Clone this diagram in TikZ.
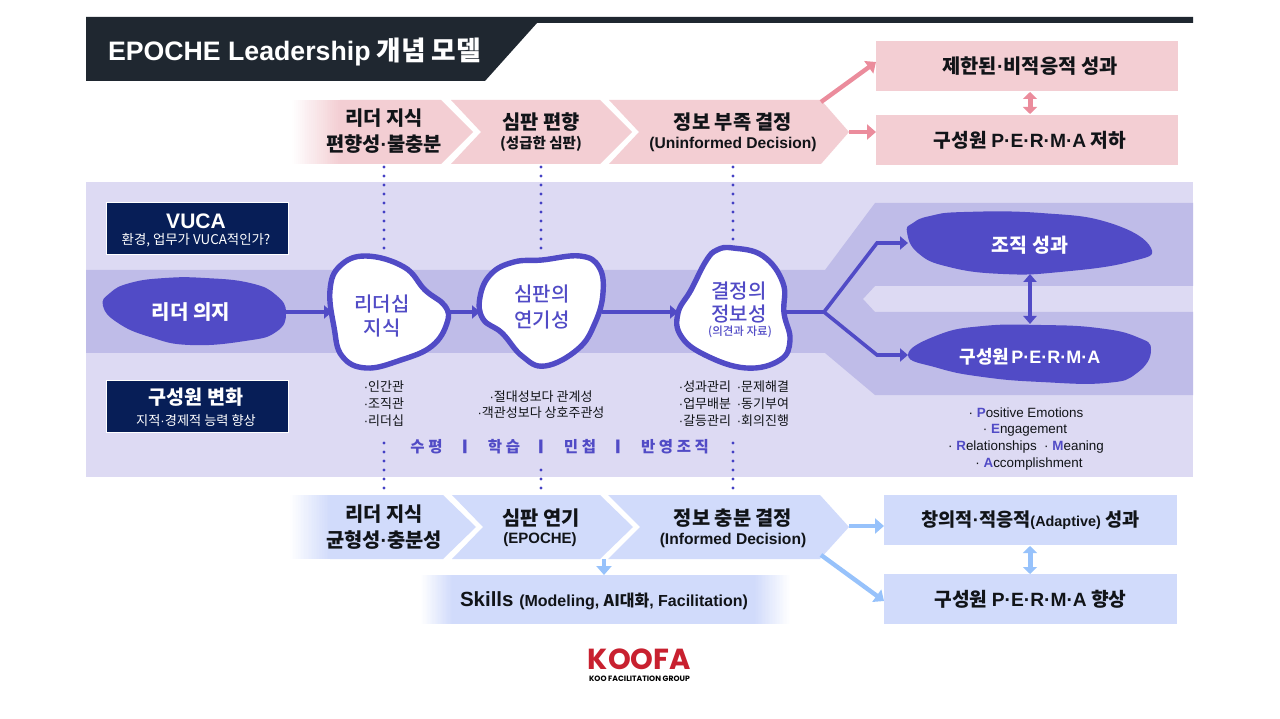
\documentclass[tikz,border=0pt]{standalone}
\usepackage{fontspec}
\setmainfont{Noto Sans CJK KR}
\newfontfamily\logofont{Poppins}
\newfontfamily\la{Liberation Sans}
\newfontfamily\med{Noto Sans CJK KR Medium}
\usetikzlibrary{arrows.meta}
\definecolor{darkbar}{HTML}{1F2730}
\definecolor{bandlight}{HTML}{DDDAF3}
\definecolor{banddark}{HTML}{BFBCE8}
\definecolor{purp}{HTML}{514BC6}
\definecolor{dotcol}{HTML}{4440C4}
\definecolor{navy}{HTML}{071E57}
\definecolor{pinkbox}{HTML}{F3CED3}
\definecolor{pinkarrow}{HTML}{EB8C9C}
\definecolor{bluebox}{HTML}{D1DBFB}
\definecolor{bluearrow}{HTML}{97C2FB}
\definecolor{inktext}{HTML}{111418}
\definecolor{logored}{HTML}{C8202F}
\newcommand{\fs}[1]{\fontsize{#1}{#1}\selectfont}
\newcommand{\md}{{\la ·}}
\newcommand{\pl}[1]{\textcolor{purp}{\bfseries #1}}
\newcommand{\pipe}{\scalebox{1.5}[0.85]{|}}
% fade in from white, left to right: colour, x0, x1, top, bottom
\newcommand{\fadeIn}[5]{\foreach \i in {0,...,24}{%
  \pgfmathsetmacro\xx{#2+(#3-#2)*\i/25}\pgfmathsetmacro\pp{(\i+0.5)*4}%
  \fill[#1!\pp!white] (\xx,#4) rectangle (#3+0.5,#5);}}
% fade out to white, left to right
\newcommand{\fadeOut}[5]{\foreach \i in {0,...,24}{%
  \pgfmathsetmacro\xx{#3-(#3-#2)*\i/25}\pgfmathsetmacro\pp{(\i+0.5)*4}%
  \fill[#1!\pp!white] (#2-0.5,#4) rectangle (\xx,#5);}}
\tikzset{
  x=1pt,y=-1pt,
  base/.style={inner sep=0pt,outer sep=0pt,align=center,text=inktext},
  lab/.style={base,yshift=-1pt},
  head/.style={lab,font=\fs{19.8}\bfseries},
  sub/.style={lab,font=\la\fs{15.6}\bfseries},
  small/.style={lab,font=\fs{13}},
  whitelab/.style={lab,text=white},
  purplab/.style={lab,text=purp},
  pinkrect/.style={base,fill=pinkbox,minimum width=302pt,minimum height=50pt,font=\fs{19.8}\bfseries},
  bluerect/.style={base,fill=bluebox,minimum width=293pt,minimum height=50pt,font=\fs{19.8}\bfseries},
  navyrect/.style={base,fill=navy,draw=white,line width=0.6pt,minimum width=182pt,minimum height=52pt},
  blobline/.style={draw=purp,line width=5.4pt,fill=white},
  blobsolid/.style={fill=purp},
  flow/.style={draw=purp,line width=3.6pt,-{Triangle[length=8pt,width=13pt]}},
  flowboth/.style={draw=purp,line width=3.6pt,{Triangle[length=8pt,width=13pt]}-{Triangle[length=8pt,width=13pt]}},
  pinkflow/.style={draw=pinkarrow,line width=4.4pt,-{Triangle[length=9pt,width=15pt]}},
  pinkboth/.style={draw=pinkarrow,line width=5pt,{Triangle[length=7pt,width=14pt]}-{Triangle[length=7pt,width=14pt]}},
  blueflow/.style={draw=bluearrow,line width=4.4pt,-{Triangle[length=9pt,width=15pt]}},
  blueboth/.style={draw=bluearrow,line width=5pt,{Triangle[length=7pt,width=14pt]}-{Triangle[length=7pt,width=14pt]}},
  dotline/.style={draw=dotcol,line width=3.4pt,line cap=round,dash pattern=on 0pt off 9pt},
}
\begin{document}
\begin{tikzpicture}
\useasboundingbox (0,0) rectangle (1280,719);
\fill[white] (0,0) rectangle (1280,719);

% title
\fill[darkbar] (86,17) -- (1193,17) -- (1193,23) -- (537,23) -- (485,81) -- (86,81) -- cycle;
\node[whitelab,anchor=west,font=\fs{26.7}\bfseries] (title) at (108,51) {{\la EPOCHE Leadership} 개념 모델};

% middle bands
\fill[bandlight] (86,182) rectangle (1193,477);
\fill[banddark] (86,270) -- (825,270) -- (875,203) -- (1193,203) -- (1193,286) -- (875,286) -- (863,299) -- (875,312) -- (1193,312) -- (1193,395) -- (875,395) -- (825,353) -- (86,353) -- cycle;

% top chevrons
\fadeIn{pinkbox}{292}{340}{100}{164}
\fill[pinkbox] (340,100) -- (441,100) -- (473,132) -- (441,164) -- (340,164) -- cycle;
\fill[pinkbox] (451,100) -- (600,100) -- (632,132) -- (600,164) -- (451,164) -- (481,132) -- cycle;
\fill[pinkbox] (609,100) -- (821,100) -- (849,132) -- (821,164) -- (609,164) -- (639,132) -- cycle;
\node[head] (tone) at (384,117) {리더 지식};
\node[head] (toneb) at (384,143) {편향성\md 불충분};
\node[head] (ttwo) at (541,121) {심판 편향};
\node[lab,font=\fs{14.5}\bfseries] (ttwob) at (541,143) {(성급한 심판)};
\node[head] (tthree) at (733,121) {정보 부족 결정};
\node[sub] (tthreeb) at (733,143) {(Uninformed Decision)};

% top results
\node[pinkrect] (pone) at (1027,66) {\hspace*{6pt}\raisebox{-1pt}{제한된\md 비적응적 성과}};
\node[pinkrect] (ptwo) at (1027,140) {\hspace*{6pt}\raisebox{-1pt}{\fs{19.2}구성원 {\la P·E·R·M·A} 저하}};
\coordinate (chevtop) at (821,102);
\coordinate (chevtip) at (849,132);
\coordinate (pdA) at (1030,92);
\coordinate (pdB) at (1030,114);
\coordinate (ponein) at (876,62);
\coordinate (ptwoin) at (876,132);
\draw[pinkflow] (chevtop) -- (ponein);
\draw[pinkflow] (chevtip) -- (ptwoin);
\draw[pinkboth] (pdA) -- (pdB);

% dotted lines
\coordinate (dAa) at (384,167); \coordinate (dAb) at (384,252);
\coordinate (dBa) at (541,167); \coordinate (dBb) at (541,252);
\coordinate (dCa) at (733,167); \coordinate (dCb) at (733,243);
\coordinate (dAc) at (384,443); \coordinate (dAd) at (384,492);
\coordinate (dBc) at (541,470); \coordinate (dBd) at (541,492);
\coordinate (dCc) at (733,443); \coordinate (dCd) at (733,492);
\draw[dotline] (dAa) -- (dAb);
\draw[dotline] (dBa) -- (dBb);
\draw[dotline] (dCa) -- (dCb);
\draw[dotline] (dAc) -- (dAd);
\draw[dotline] (dBc) -- (dBd);
\draw[dotline] (dCc) -- (dCd);

% blobs
\fill[blobsolid] plot[smooth cycle,tension=0.8] coordinates {(103,306) (110,293) (130,283) (165,278) (205,278) (250,283) (276,295) (286,313) (276,332) (245,341) (190,345) (150,337) (118,323)};
\draw[blobline] plot[smooth cycle,tension=0.7] coordinates {(366,256) (404,267) (425,290) (445,306) (447,323) (432,346) (401,360) (366,368) (342,356) (334,327) (330,290) (340,266)};
\draw[blobline] plot[smooth cycle,tension=0.7] coordinates {(542,260) (580,256) (599,267) (603,293) (595,323) (578,349) (545,366) (522,356) (502,333) (483,319) (480,297) (491,274) (514,262)};
\draw[blobline] plot[smooth cycle,tension=0.7] coordinates {(733,248) (763,256) (783,283) (784,313) (790,340) (780,360) (746,368) (705,355) (681,336) (678,313) (691,290) (706,261) (717,250)};
\fill[blobsolid] plot[smooth cycle,tension=0.8] coordinates {(907,232) (913,223) (930,216) (964,212) (1041,213) (1110,223) (1151,248) (1129,262) (1060,272) (1003,274) (949,267) (918,253)};
\fill[blobsolid] plot[smooth cycle,tension=0.8] coordinates {(908,355) (938,335) (983,326) (1041,325) (1098,328) (1137,337) (1151,350) (1137,373) (1106,383) (1041,382) (983,377) (938,368)};

% connector anchors
\coordinate (willout) at (285,312);
\coordinate (kin) at (332,312);
\coordinate (kout) at (447,312);
\coordinate (jin) at (480,312);
\coordinate (jout) at (602,312);
\coordinate (din) at (678,312);
\coordinate (dout) at (785,312);
\coordinate (fork) at (824,312);
\coordinate (upA) at (877,243);
\coordinate (upB) at (908,243);
\coordinate (dnA) at (877,355);
\coordinate (dnB) at (908,355);
\coordinate (vA) at (1030,274);
\coordinate (vB) at (1030,324);
\draw[flow] (willout) -- (kin);
\draw[flow] (kout) -- (jin);
\draw[flow] (jout) -- (din);
\draw[draw=purp,line width=3.6pt] (dout) -- (fork);
\draw[flow] (fork) -- (upA) -- (upB);
\draw[flow] (fork) -- (dnA) -- (dnB);
\draw[flowboth] (vA) -- (vB);

% blob texts
\node[whitelab,font=\fs{20}\bfseries] (will) at (191,311) {리더 의지};
\node[purplab,font=\med\fs{20}] (know) at (382,315) {리더십\\[4pt]지식};
\node[purplab,font=\med\fs{20}] (judge) at (542,306) {심판의\\[5pt]연기성};
\node[purplab,font=\med\fs{20}] (infoa) at (739,301.5) {결정의\\[3pt]정보성};
\node[purplab,font=\med\fs{11.5}] (infob) at (740,331) {(의견과 자료)};
\node[whitelab,font=\fs{19.5}\bfseries] (org) at (1030,244) {조직 성과};
\node[whitelab,font=\fs{18}\bfseries] (perma) at (1030,356) {구성원\hspace{2pt}{\la P·E·R·M·A}};

% navy boxes
\node[navyrect] (vuca) at (197,228) {};
\node[whitelab,font=\la\fs{21}\bfseries] (vucaa) at (196,220) {VUCA};
\node[whitelab,font=\fs{13.4}] (vucab) at (196,239) {환경, 업무가 VUCA적인가?};
\node[navyrect] (mem) at (197,406) {};
\node[whitelab,font=\fs{19.6}\bfseries] (mema) at (196,396) {구성원 변화};
\node[whitelab,font=\fs{13.2}] (memb) at (196,420) {지적\md 경제적 능력 향상};

% lists
\node[small] (la) at (384,386) {\md 인간관};
\node[small] (lb) at (384,403) {\md 조직관};
\node[small] (lc) at (384,420) {\md 리더십};
\node[small] (ma) at (541,396) {\md 절대성보다 관계성};
\node[small] (mb) at (541,412) {\md 객관성보다 상호주관성};
\node[small] (ra) at (734,386) {\md 성과관리 \ \md 문제해결};
\node[small] (rb) at (734,403) {\md 업무배분 \ \md 동기부여};
\node[small] (rc) at (734,420) {\md 갈등관리 \ \md 회의진행};

% virtues
\node[purplab,font=\fs{15.5}\bfseries] (va) at (426.5,446) {수 평};
\node[purplab,font=\la\fs{17}\bfseries] (vs1) at (465,446) {\pipe};
\node[purplab,font=\fs{15.5}\bfseries] (vb) at (504,446) {학 습};
\node[purplab,font=\la\fs{17}\bfseries] (vs2) at (541,446) {\pipe};
\node[purplab,font=\fs{15.5}\bfseries] (vc) at (580,446) {민 첩};
\node[purplab,font=\la\fs{17}\bfseries] (vs3) at (618,446) {\pipe};
\node[purplab,font=\fs{15.5}\bfseries] (vd) at (675,446) {반 영 조 직};

% PERMA list
\node[lab,font=\la\fs{13.4}] (pa) at (1026,412) {· \pl{P}ositive Emotions};
\node[lab,font=\la\fs{13.4}] (pb) at (1025,429) {· \pl{E}ngagement};
\node[lab,font=\la\fs{13.4}] (pc) at (1026,446) {· \pl{R}elationships \ · \pl{M}eaning};
\node[lab,font=\la\fs{13.4}] (pd) at (1029,463) {· \pl{A}ccomplishment};

% bottom chevrons
\fadeIn{bluebox}{290}{330}{495}{559}
\fill[bluebox] (330,495) -- (443,495) -- (476,527) -- (443,559) -- (330,559) -- cycle;
\fill[bluebox] (452,495) -- (600,495) -- (633,527) -- (600,559) -- (452,559) -- (483,527) -- cycle;
\fill[bluebox] (608,495) -- (820,495) -- (849,527) -- (820,559) -- (608,559) -- (640,527) -- cycle;
\node[head] (bone) at (384,513) {리더 지식};
\node[head] (boneb) at (384,539) {균형성\md 충분성};
\node[head] (btwo) at (541,517) {심판 연기};
\node[sub,font=\la\fs{15}\bfseries] (btwob) at (540,539) {(EPOCHE)};
\node[sub] (bthreeb) at (733,539) {(Informed Decision)};
\node[head] (bthree) at (733,517) {정보 충분 결정};

% skills
\fadeIn{bluebox}{421}{452}{575}{624}
\fill[bluebox] (452,575) rectangle (755,624);
\fadeOut{bluebox}{755}{790}{575}{624}
\node[lab] (skills) at (604,600) {\la\fs{20.5}\bfseries Skills \fs{16}\bfseries(Modeling, {\rmfamily AI대화}, Facilitation)};
\coordinate (skA) at (604,559);
\coordinate (skB) at (604,575);
\draw[blueflow] (skA) -- (skB);

% bottom results
\node[bluerect] (qone) at (1030.5,520) {\raisebox{-1pt}{\fs{18.6}창의적\md 적응적{\la\fs{14.4}(Adaptive)} 성과}};
\node[bluerect] (qtwo) at (1030.5,599) {\raisebox{-1pt}{\fs{19.2}구성원 {\la P·E·R·M·A} 향상}};
\coordinate (bchevtip) at (849,526);
\coordinate (qonein) at (884,526);
\coordinate (bchevbot) at (821,555);
\coordinate (qtwoin) at (884,601);
\coordinate (qdA) at (1030,546);
\coordinate (qdB) at (1030,574);
\draw[blueflow] (bchevtip) -- (qonein);
\draw[blueflow] (bchevbot) -- (qtwoin);
\draw[blueboth] (qdA) -- (qdB);

% logo
\node[inner sep=0pt,align=center,anchor=south,text=logored,font=\logofont\bfseries] (logo) at (639.5,682)
  {\fontsize{29}{29}\selectfont KOOFA\\\textcolor{black}{\fontsize{7.7}{9}\selectfont KOO FACILITATION GROUP}};
\end{tikzpicture}
\end{document}
